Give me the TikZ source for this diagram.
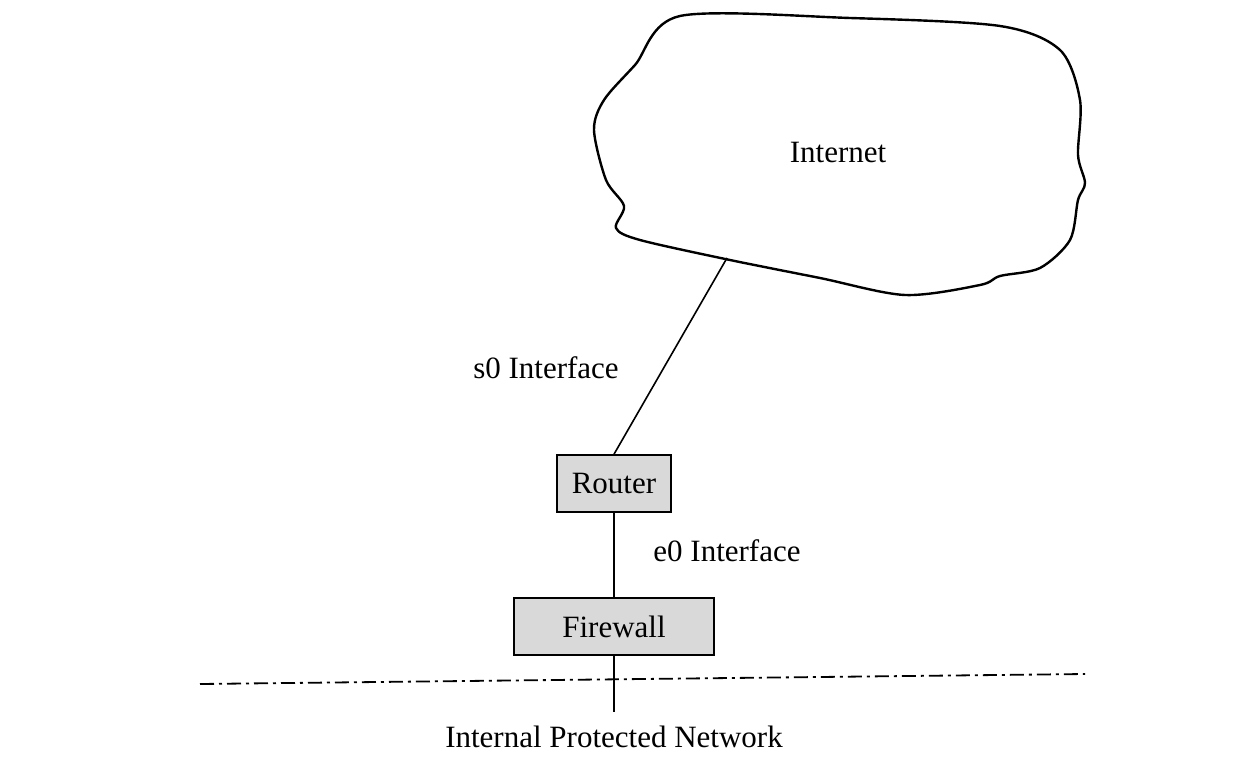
\documentclass[tikz,border=0pt]{standalone}
\usepackage{fontspec}
\setmainfont{Liberation Serif}
\begin{document}
\begin{tikzpicture}[x=1pt,y=-1pt,
  box/.style={draw,fill=gray!30,minimum width=#1,minimum height=57pt,inner sep=0pt,font=\fontsize{31}{34}\selectfont},
  lab/.style={font=\fontsize{31}{34}\selectfont},
  line width=1.6pt]
\useasboundingbox (0,0) rectangle (1258,765);
\draw[line width=2.4pt] plot[smooth cycle,tension=0.5] coordinates{
 (680,16) (850,18) (1000,26) (1060,50) (1080,100) (1078,155) (1085,183) (1078,200)
 (1070,240) (1040,268) (1000,276) (980,285) (905,295) (820,278) (730,260) (640,240)
 (616,228) (624,206) (606,180) (594,130) (604,100) (635,65)};
\coordinate (c) at (727,258);
\node[lab] at (838,153) {Internet};
\node[box=114pt] (r) at (614,483.5) {Router};
\node[box=200pt] (f) at (614,626.5) {Firewall};
\coordinate (b) at (614,712);
\draw (c) -- (r.north);
\draw (r) -- (f);
\draw (f) -- (b);
\draw[line width=1.8pt,dash pattern=on 14pt off 5pt on 3pt off 5pt] (200,684) -- (1085,674);
\node[lab] at (546,368) {s0 Interface};
\node[lab] at (727,551) {e0 Interface};
\node[lab] at (614,737) {Internal Protected Network};
\end{tikzpicture}
\end{document}
